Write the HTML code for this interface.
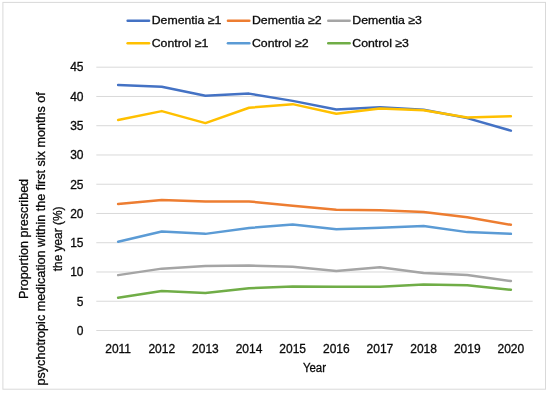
<!DOCTYPE html><html><head><meta charset="utf-8"><style>html,body{margin:0;padding:0;background:#fff;width:550px;height:393px;overflow:hidden}svg{display:block;will-change:transform}text{font-family:"Liberation Sans",sans-serif;fill:#0a0a0a;stroke:#0a0a0a;stroke-width:0.3}</style></head><body>
<svg width="550" height="393" viewBox="0 0 550 393">
<rect x="0" y="0" width="550" height="393" fill="#fff"/>
<rect x="2.9" y="2.4" width="542.6" height="386.8" fill="none" stroke="#D9D9D9" stroke-width="1"/>
<line x1="96.3" y1="330.50" x2="532.7" y2="330.50" stroke="#D9D9D9" stroke-width="1"/>
<line x1="96.3" y1="301.24" x2="532.7" y2="301.24" stroke="#D9D9D9" stroke-width="1"/>
<line x1="96.3" y1="271.99" x2="532.7" y2="271.99" stroke="#D9D9D9" stroke-width="1"/>
<line x1="96.3" y1="242.73" x2="532.7" y2="242.73" stroke="#D9D9D9" stroke-width="1"/>
<line x1="96.3" y1="213.48" x2="532.7" y2="213.48" stroke="#D9D9D9" stroke-width="1"/>
<line x1="96.3" y1="184.22" x2="532.7" y2="184.22" stroke="#D9D9D9" stroke-width="1"/>
<line x1="96.3" y1="154.97" x2="532.7" y2="154.97" stroke="#D9D9D9" stroke-width="1"/>
<line x1="96.3" y1="125.71" x2="532.7" y2="125.71" stroke="#D9D9D9" stroke-width="1"/>
<line x1="96.3" y1="96.46" x2="532.7" y2="96.46" stroke="#D9D9D9" stroke-width="1"/>
<line x1="96.3" y1="67.20" x2="532.7" y2="67.20" stroke="#D9D9D9" stroke-width="1"/>
<text x="83.5" y="335.00" font-size="12" text-anchor="end">0</text>
<text x="83.5" y="305.70" font-size="12" text-anchor="end">5</text>
<text x="83.5" y="276.40" font-size="12" text-anchor="end">10</text>
<text x="83.5" y="247.10" font-size="12" text-anchor="end">15</text>
<text x="83.5" y="217.80" font-size="12" text-anchor="end">20</text>
<text x="83.5" y="188.50" font-size="12" text-anchor="end">25</text>
<text x="83.5" y="159.20" font-size="12" text-anchor="end">30</text>
<text x="83.5" y="129.90" font-size="12" text-anchor="end">35</text>
<text x="83.5" y="100.60" font-size="12" text-anchor="end">40</text>
<text x="83.5" y="71.30" font-size="12" text-anchor="end">45</text>
<text x="118.12" y="352.5" font-size="12" text-anchor="middle">2011</text>
<text x="161.76" y="352.5" font-size="12" text-anchor="middle">2012</text>
<text x="205.40" y="352.5" font-size="12" text-anchor="middle">2013</text>
<text x="249.04" y="352.5" font-size="12" text-anchor="middle">2014</text>
<text x="292.68" y="352.5" font-size="12" text-anchor="middle">2015</text>
<text x="336.32" y="352.5" font-size="12" text-anchor="middle">2016</text>
<text x="379.96" y="352.5" font-size="12" text-anchor="middle">2017</text>
<text x="423.60" y="352.5" font-size="12" text-anchor="middle">2018</text>
<text x="467.24" y="352.5" font-size="12" text-anchor="middle">2019</text>
<text x="510.88" y="352.5" font-size="12" text-anchor="middle">2020</text>
<text x="314.5" y="372.4" font-size="12" text-anchor="middle" textLength="23.1" lengthAdjust="spacingAndGlyphs">Year</text>
<g transform="translate(0,238.9) rotate(-90)">
<text x="0" y="28.0" font-size="12.4" text-anchor="middle" textLength="120" lengthAdjust="spacingAndGlyphs">Proportion prescribed</text>
<text x="0" y="45.0" font-size="12.4" text-anchor="middle" textLength="293.2" lengthAdjust="spacingAndGlyphs">psychotropic medication within the first six months of</text>
<text x="0" y="61.8" font-size="12.4" text-anchor="middle" textLength="64.8" lengthAdjust="spacingAndGlyphs">the year (%)</text>
</g>
<polyline points="118.12,85.08 161.76,86.77 205.40,95.67 249.04,93.62 292.68,100.88 336.32,109.48 379.96,107.37 423.60,109.71 467.24,118.08 510.88,130.66" fill="none" stroke="#4472C4" stroke-width="2.5" stroke-linejoin="round" stroke-linecap="round"/>
<polyline points="118.12,204.03 161.76,200.11 205.40,201.40 249.04,201.40 292.68,205.79 336.32,209.71 379.96,210.29 423.60,211.99 467.24,217.31 510.88,224.80" fill="none" stroke="#ED7D31" stroke-width="2.5" stroke-linejoin="round" stroke-linecap="round"/>
<polyline points="118.12,275.12 161.76,268.63 205.40,265.94 249.04,265.53 292.68,266.64 336.32,271.03 379.96,267.34 423.60,273.02 467.24,275.00 510.88,281.09" fill="none" stroke="#A5A5A5" stroke-width="2.5" stroke-linejoin="round" stroke-linecap="round"/>
<polyline points="118.12,120.01 161.76,111.12 205.40,123.11 249.04,107.78 292.68,104.15 336.32,113.69 379.96,108.42 423.60,110.30 467.24,117.55 510.88,116.21" fill="none" stroke="#FFC000" stroke-width="2.5" stroke-linejoin="round" stroke-linecap="round"/>
<polyline points="118.12,241.83 161.76,231.41 205.40,233.87 249.04,228.02 292.68,224.39 336.32,229.31 379.96,227.73 423.60,225.97 467.24,232.12 510.88,233.87" fill="none" stroke="#5B9BD5" stroke-width="2.5" stroke-linejoin="round" stroke-linecap="round"/>
<polyline points="118.12,297.82 161.76,291.10 205.40,293.03 249.04,288.23 292.68,286.41 336.32,286.82 379.96,286.82 423.60,284.43 467.24,285.36 510.88,289.81" fill="none" stroke="#70AD47" stroke-width="2.5" stroke-linejoin="round" stroke-linecap="round"/>
<line x1="127.6" y1="20.7" x2="149.1" y2="20.7" stroke="#4472C4" stroke-width="2.4" stroke-linecap="round"/>
<text x="151.7" y="24.4" font-size="11.3" textLength="69.6" lengthAdjust="spacingAndGlyphs">Dementia ≥1</text>
<line x1="227.9" y1="20.7" x2="249.4" y2="20.7" stroke="#ED7D31" stroke-width="2.4" stroke-linecap="round"/>
<text x="252.0" y="24.4" font-size="11.3" textLength="69.6" lengthAdjust="spacingAndGlyphs">Dementia ≥2</text>
<line x1="328.20000000000005" y1="20.7" x2="349.70000000000005" y2="20.7" stroke="#A5A5A5" stroke-width="2.4" stroke-linecap="round"/>
<text x="352.3" y="24.4" font-size="11.3" textLength="69.6" lengthAdjust="spacingAndGlyphs">Dementia ≥3</text>
<line x1="127.6" y1="43.199999999999996" x2="149.1" y2="43.199999999999996" stroke="#FFC000" stroke-width="2.4" stroke-linecap="round"/>
<text x="151.7" y="46.9" font-size="11.3" textLength="56.6" lengthAdjust="spacingAndGlyphs">Control ≥1</text>
<line x1="227.9" y1="43.199999999999996" x2="249.4" y2="43.199999999999996" stroke="#5B9BD5" stroke-width="2.4" stroke-linecap="round"/>
<text x="252.0" y="46.9" font-size="11.3" textLength="56.6" lengthAdjust="spacingAndGlyphs">Control ≥2</text>
<line x1="328.20000000000005" y1="43.199999999999996" x2="349.70000000000005" y2="43.199999999999996" stroke="#70AD47" stroke-width="2.4" stroke-linecap="round"/>
<text x="352.3" y="46.9" font-size="11.3" textLength="56.6" lengthAdjust="spacingAndGlyphs">Control ≥3</text>
</svg></body></html>
